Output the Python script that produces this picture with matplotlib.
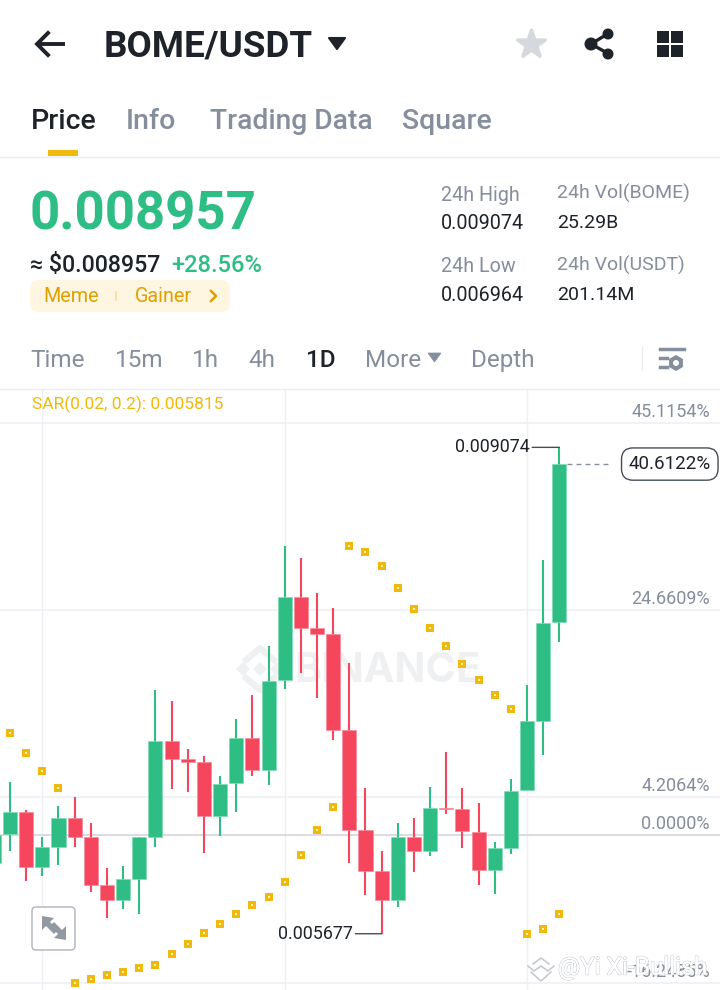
import matplotlib
matplotlib.use("Agg")
import matplotlib.pyplot as plt
import matplotlib.patheffects as pe
from matplotlib.patches import FancyBboxPatch, Polygon, Circle, RegularPolygon

plt.rcParams["font.family"] = ["Roboto", "DejaVu Sans"]

GREEN = "#2EBD85"
RED = "#F6465D"
YELLOW = "#F0B90B"
DARK = "#1E2329"
GREY = "#848E9C"

# candle values, % change against the chart's reference price
opens = [-3.07, 0.08, 2.55, -3.50, -1.28, 1.83, -0.25, -5.48, -7.15, -4.82, -0.19, 10.26, 8.32, 8.03, 2.11, 5.69,
         10.65, 7.15, 16.97, 26.09, 22.67, 21.98, 11.46, 0.51, -3.97, -7.15, -0.19, -1.75, 2.99, 2.81, 0.36, -3.80,
         -1.39, 4.89, 12.45, 23.29]
closes = [0.0, 2.55, -3.50, -1.28, 1.83, -0.22, -5.44, -7.15, -4.82, -0.25, 10.26, 8.35, 8.03, 2.05, 5.62, 10.65,
          7.12, 16.90, 26.09, 22.70, 21.98, 11.50, 0.51, -3.97, -7.15, -0.19, -1.75, 2.96, 2.81, 0.41, -3.83, -1.42,
          4.82, 12.45, 23.21, 40.62]
highs = [0.0, 5.84, 2.74, -0.19, 3.21, 4.19, 1.28, -3.61, -3.43, -0.25, 15.88, 14.64, 9.38, 8.62, 6.46, 12.67,
         15.30, 20.70, 31.68, 30.30, 26.53, 24.82, 18.80, 5.11, -1.75, 1.28, 1.83, 5.22, 9.09, 5.11, 3.47, -0.80,
         6.10, 16.43, 30.08, 42.45]
lows = [-3.07, -1.72, -5.00, -4.49, -3.32, -1.35, -6.21, -9.06, -8.14, -8.62, -1.28, 5.07, 4.68, -1.94, -0.14, 2.49,
        6.49, 5.44, 15.95, 17.77, 15.03, 10.40, -3.03, -6.57, -10.81, -7.85, -4.02, -2.27, 2.33, -1.46, -5.44, -6.43,
        -2.08, 4.89, 8.79, 21.17]
candle_idx = list(range(-1, 35))

# parabolic SAR, one dot per candle from index 0
sar = [11.17, 8.98, 6.98, 5.11, -16.17, -15.77, -15.36, -15.00, -14.60, -14.24, -13.03, -11.90, -10.76, -9.71,
       -8.68, -7.70, -6.76, -5.11, -2.16, 0.55, 3.07, 31.68, 30.99, 29.49, 27.05, 24.78, 22.67, 20.66, 18.76, 16.97,
       15.33, 13.76, -10.81, -10.26, -8.65]
sar_idx = list(range(0, 35))

grid_levels = [45.1154, 24.6609, 4.2064, -16.2485]
axis_labels = ["45.1154%", "24.6609%", "4.2064%", "-16.2485%"]
time_grid = [2, 17, 32]

fig = plt.figure(figsize=(7.2, 9.9), dpi=100, facecolor="white")

# background layer for the faint logo
bg = fig.add_axes([0, 0, 1, 1], zorder=0)
bg.set_xlim(0, 720)
bg.set_ylim(990, 0)
bg.axis("off")
WM = "#EEF0F2"
bg.text(294, 670.5, "BINANCE", fontsize=29.5, family="Inter", fontweight="bold", color=WM, va="center", ha="left")
for cx, cy, r in [(260, 669, 7), (243, 669, 7), (277, 669, 7)]:
    bg.add_patch(Polygon([(cx - r, cy), (cx, cy - r), (cx + r, cy), (cx, cy + r)], closed=True, fc=WM, ec="none"))
bg.plot([246, 260, 274], [660, 648, 660], color=WM, lw=4.5)
bg.plot([246, 260, 274], [678, 690, 678], color=WM, lw=4.5)

# price chart
ax = fig.add_axes([0, 0, 1, (990 - 389) / 990], zorder=1)
ax.patch.set_alpha(0)
ax.set_xlim(-0.619, 43.94)
ax.set_ylim(-16.97, 48.84)
ax.axis("off")

for lvl, lab in zip(grid_levels, axis_labels):
    ax.axhline(lvl, color="#EEF0F3", lw=1.2, zorder=1)
    ax.annotate(lab, xy=(1, lvl), xycoords=ax.get_yaxis_transform(), xytext=(-10, 11),
                textcoords="offset pixels", ha="right", va="center", fontsize=13, color=GREY, zorder=2)
for t in time_grid:
    ax.axvline(t, color="#EEF0F3", lw=1.0, zorder=1)
ax.axhline(0, color="#D3D6DC", lw=1.2, zorder=1)
ax.annotate("0.0000%", xy=(1, 0), xycoords=ax.get_yaxis_transform(), xytext=(-10, 11),
            textcoords="offset pixels", ha="right", va="center", fontsize=13, color=GREY, zorder=2)

for i, o, c, h, l in zip(candle_idx, opens, closes, highs, lows):
    col = GREEN if c >= o else RED
    edge = "#7FDCB5" if c >= o else "#FB8A99"
    ax.vlines(i, l, h, color=col, lw=1.5, zorder=3)
    ax.bar(i, abs(c - o), bottom=min(o, c), width=0.87, color=col, edgecolor=edge, linewidth=0.5, zorder=4)

ax.scatter(sar_idx, sar, marker="s", s=36, color=YELLOW, linewidths=0, zorder=5)
ax.scatter(sar_idx, sar, marker="s", s=4, color="#FFF3C4", linewidths=0, zorder=6)

# high / low callouts
hi = highs.index(max(highs))
lo = lows.index(min(lows))
ax.annotate("0.009074", xy=(candle_idx[hi], highs[hi]), xytext=(-30, 0), textcoords="offset pixels",
            ha="right", va="center", fontsize=12.9, color=DARK, zorder=7,
            arrowprops=dict(arrowstyle="-", color="#474D57", lw=1, shrinkA=0, shrinkB=0))
ax.annotate("0.005677", xy=(candle_idx[lo], lows[lo]), xytext=(-29, 0), textcoords="offset pixels",
            ha="right", va="center", fontsize=12.9, color=DARK, zorder=7,
            arrowprops=dict(arrowstyle="-", color="#474D57", lw=1, shrinkA=0, shrinkB=0))

# last price dashes and tag
ax.annotate("40.6122%", xy=(34.45, closes[-1]), xycoords="data", xytext=(62, 0), textcoords="offset pixels",
            ha="left", va="center", fontsize=13.5, color=DARK, zorder=8,
            bbox=dict(boxstyle="round,pad=0.38,rounding_size=0.6", fc="white", ec="#474D57", lw=1))
ax.plot([34.45, 37.2], [closes[-1], closes[-1]], color="#848E9C", lw=1, ls=(0, (3.5, 3)), zorder=3)

# app chrome, pixel coordinates
ui = fig.add_axes([0, 0, 1, 1], zorder=2)
ui.patch.set_alpha(0)
ui.set_xlim(0, 720)
ui.set_ylim(990, 0)
ui.axis("off")


def label(x, y, s, size, color=GREY, weight="normal", ha="left"):
    ui.text(x, y + 1.5, s, fontsize=size, color=color, fontweight=weight, va="center", ha=ha)


# header
ui.plot([37, 65], [44, 44], color=DARK, lw=2.8, solid_capstyle="butt")
ui.plot([48, 37, 48], [33, 44, 55], color=DARK, lw=2.8, solid_joinstyle="miter")
label(104, 45, "BOME/USDT", 26.5, DARK, "bold")
ui.add_patch(Polygon([(329, 38), (345, 38), (337, 49)], closed=True, fc=DARK, ec=DARK, lw=1.5, joinstyle="round"))
ui.scatter([531], [44], marker="*", s=430, color="#D5D8DD", edgecolors="#D5D8DD", linewidths=2.5)
ui.plot([609, 591, 609], [33, 44, 54], color=DARK, lw=2.4)
for cx, cy, r in [(608, 34, 5.5), (591, 44, 6.5), (608, 54, 5.5)]:
    ui.add_patch(Circle((cx, cy), r, fc=DARK, ec="none"))
for gx, gy in [(657, 31), (671, 31), (657, 45), (671, 45)]:
    ui.add_patch(plt.Rectangle((gx, gy), 12, 12, fc=DARK, ec="none"))

# tabs
label(31, 120, "Price", 20.5, DARK, 500)
label(126, 120, "Info", 20.5, GREY, 500)
label(210, 120, "Trading Data", 20.3, GREY, 500)
label(402, 120, "Square", 20.5, GREY, 500)
ui.add_patch(plt.Rectangle((48, 150), 30, 6, fc=YELLOW, ec="none"))
ui.plot([0, 720], [157, 157], color="#EAECEF", lw=1)

# ticker block
label(30, 213.5, "0.008957", 38, GREEN, "bold")
label(30, 264, "≈ $0.008957", 16.7, DARK, 500)
label(171, 264, "+28.56%", 17, GREEN, 500)
ui.add_patch(FancyBboxPatch((30, 280), 200, 32, boxstyle="round,pad=0,rounding_size=9", fc="#FEF6E0", ec="none"))
label(43, 295, "Meme", 14.2, "#DFA000")
ui.plot([116, 116], [292, 300], color="#F5DFA0", lw=1.2)
label(135, 295, "Gainer", 14.2, "#DFA000")
ui.plot([211, 216, 211], [291, 296, 301], color="#DFA000", lw=1.8)

label(441, 194, "24h High", 14.2)
label(441, 222, "0.009074", 14.2, DARK)
label(441, 265, "24h Low", 14.2)
label(441, 294, "0.006964", 14.2, DARK)
label(557, 192, "24h Vol(BOME)", 14)
label(557, 221, "25.29B", 14, DARK)
label(557, 264, "24h Vol(USDT)", 14)
label(557, 293, "201.14M", 14, DARK)

# interval row
for x, s in [(30, "Time"), (115, "15m"), (192, "1h"), (248, "4h"), (365, "More"), (471, "Depth")]:
    label(x, 359, s, 17.5)
label(306, 359, "1D", 17.5, DARK, 500)
ui.add_patch(Polygon([(428, 353), (441, 353), (434.5, 362)], closed=True, fc=GREY, ec=GREY, lw=0.5))
ui.plot([642, 642], [347, 370], color="#EAECEF", lw=1)
ui.plot([660, 684], [348.5, 348.5], color=GREY, lw=2.5)
ui.plot([660, 667], [358, 358], color=GREY, lw=2.5)
ui.plot([660, 667], [366.5, 366.5], color=GREY, lw=2.5)
ui.add_patch(RegularPolygon((676, 363), 6, radius=8, fc=GREY, ec="none"))
ui.add_patch(Circle((676, 363), 3, fc="white", ec="none"))
ui.plot([0, 720], [388.5, 388.5], color="#EAECEF", lw=1)

label(32, 403, "SAR(0.02, 0.2): 0.005815", 12.5, YELLOW)

# expand button
ui.add_patch(FancyBboxPatch((32, 907), 43, 43, boxstyle="round,pad=0,rounding_size=4", fc="white", ec="#AEB4BC", lw=1))
ui.add_patch(Polygon([(42, 916), (54, 918), (50, 922), (58, 930), (54, 934), (46, 926), (42, 930)], closed=True,
                     fc="#9299A3", ec="none"))
ui.add_patch(Polygon([(66, 940), (54, 938), (58, 934), (50, 926), (54, 922), (62, 930), (66, 926)], closed=True,
                     fc="#9299A3", ec="none"))

# repost watermark
outline = [pe.withStroke(linewidth=0.9, foreground="#C2C6CC"), pe.Normal()]
ui.text(558, 968, "@Yi Xi-Bullish", fontsize=17.6, color="white", va="center", ha="left", path_effects=outline)
ui.plot([528, 534, 541, 548, 554], [966, 971, 966, 971, 966], color="#C2C6CC", lw=1.1)
ui.plot([531, 541, 551], [972, 981, 972], color="#C2C6CC", lw=1.1)
ui.plot([533, 541, 549], [964, 958, 964], color="#C2C6CC", lw=1.1)

fig.savefig("out.png", dpi=100)
